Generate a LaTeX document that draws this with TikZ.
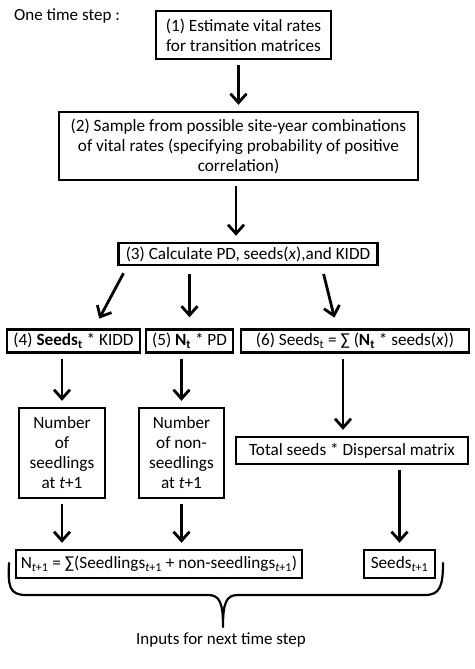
\documentclass[tikz,border=0pt]{standalone}
\usepackage{fontspec}
\setmainfont{Carlito}
\usepackage{tikz}
\usetikzlibrary{arrows.meta, positioning}

\tikzset{
  box/.style={draw, line width=2.4pt, align=center, inner sep=0pt,
    font=\fontsize{17.2}{20}\selectfont},
  arr/.style={line width=2.8pt, -{Straight Barb[length=9pt,width=16pt,line width=2.8pt]},
    shorten <=5pt, shorten >=6pt},
  lbl/.style={font=\fontsize{17}{20}\selectfont, inner sep=0pt}
}

\begin{document}
\begin{tikzpicture}[x=1pt,y=-1pt]
  \useasboundingbox (0,0) rectangle (474,669);

  \node[lbl] (title) at (67,16) {One time step :};

  \node[box, minimum width=175pt, minimum height=48pt] (est) at (243.5,35)
    {(1) Estimate vital rates\\for transition matrices};
  \node[box, minimum width=359pt, minimum height=68pt] (samp) at (238.5,146)
    {(2) Sample from possible site-year combinations\\of vital rates (specifying probability of positive\\correlation)};
  \node[box, minimum width=259pt, minimum height=22pt] (calc) at (248,254)
    {(3) Calculate PD, seeds(\textit{x}),and KIDD};

  \node[box, minimum width=133pt, minimum height=23pt] (kidd) at (73.5,341)
    {(4) \textbf{Seeds\textsubscript{t}} * KIDD};
  \node[box, minimum width=87pt, minimum height=23pt] (pd) at (189.5,341)
    {(5) \textbf{N\textsubscript{t}} * PD};
  \node[box, minimum width=228pt, minimum height=23pt] (sum) at (355,341)
    {(6) Seeds\textsubscript{t} = ∑ (\textbf{N\textsubscript{t}} * seeds(\textit{x}))};

  \node[box, minimum width=86pt, minimum height=90pt] (seedl) at (62,453)
    {Number\\of\\seedlings\\at \textit{t}+1};
  \node[box, minimum width=85pt, minimum height=90pt] (nonseedl) at (181.5,453)
    {Number\\of non-\\seedlings\\at \textit{t}+1};
  \node[box, minimum width=232pt, minimum height=27pt] (disp) at (352,450.5)
    {Total seeds * Dispersal matrix};

  \node[box, minimum width=286pt, minimum height=28pt] (nnext) at (159,564)
    {N\textsubscript{\textit{t}+1} = ∑(Seedlings\textsubscript{\textit{t}+1} + non-seedlings\textsubscript{\textit{t}+1})};
  \node[box, minimum width=71pt, minimum height=28pt] (snext) at (399.5,564)
    {Seeds\textsubscript{\textit{t}+1}};

  % arrows
  \draw[arr] (samp.north |- est.south) -- (samp.north);
  \draw[arr] ([xshift=-12pt]calc.north |- samp.south) -- ([xshift=-12pt]calc.north);
  \draw[arr, shorten <=8pt, shorten >=11pt] ([xshift=10pt]calc.south west) -- ([xshift=20.5pt]kidd.north);
  \draw[arr, shorten <=8pt, shorten >=11pt] (pd.north |- calc.south) -- (pd.north);
  \draw[arr, shorten <=8pt, shorten >=11pt] ([xshift=-57pt]calc.south east) -- ([xshift=-18pt]sum.north);
  \draw[arr] (seedl.north |- kidd.south) -- (seedl.north);
  \draw[arr] (nonseedl.north |- pd.south) -- (nonseedl.north);
  \draw[arr] ([xshift=-12pt]sum.south) -- ([xshift=-12pt]sum.south |- disp.north);
  \draw[arr] (seedl.south) -- (seedl.south |- nnext.north);
  \draw[arr] (nonseedl.south) -- (nonseedl.south |- nnext.north);
  \draw[arr] (snext.north |- disp.south) -- (snext.north);

  % brace
  \coordinate (tip) at (223,627);
  \draw[line width=2.2pt, line cap=round, line join=round]
    (9,563) .. controls (8,586) and (9,595) .. (26,595) -- (208,595)
    .. controls (220,595) and (223,603) .. (tip)
    .. controls (223,603) and (226,595) .. (238,595) -- (425,595)
    .. controls (440,595) and (443,586) .. (443,563);
  \node[lbl] (next) at (221,640) {Inputs for next time step};
\end{tikzpicture}
\end{document}
